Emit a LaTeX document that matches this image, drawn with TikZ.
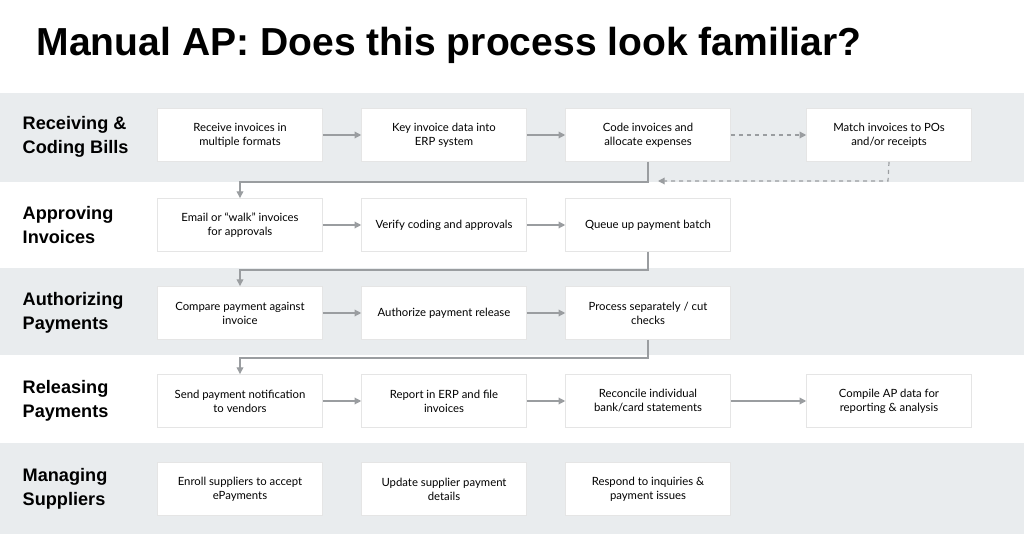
\documentclass[tikz,border=0pt]{standalone}
\usepackage{fontspec}
\setmainfont{Lato}
\newfontfamily\titlefont{Liberation Sans}
\usetikzlibrary{arrows.meta}
\definecolor{band}{HTML}{E9ECEE}
\definecolor{conn}{HTML}{9A9DA0}
\tikzset{
  px/.style={x=0.75pt,y=-0.75pt},
  boxx/.style={draw=black!10,fill=white,minimum width=123.75pt,minimum height=40pt,align=center,font=\fontsize{8.5}{10.5}\selectfont,inner sep=2pt},
  rowlbl/.style={anchor=west,align=left,font=\titlefont\bfseries\fontsize{13.6}{18}\selectfont},
  con/.style={draw=conn,line width=0.9pt,-{Triangle[length=5pt,width=5pt]}},
  dcon/.style={con,dashed}
}
\begin{document}
\begin{tikzpicture}[px]
\useasboundingbox (0,0) rectangle (1024,534);
\fill[white] (0,0) rectangle (1024,534);
\fill[band] (0,93) rectangle (1024,182);
\fill[band] (0,268) rectangle (1024,355);
\fill[band] (0,443) rectangle (1024,534);
\node[anchor=west,font=\titlefont\bfseries\fontsize{29.3}{30}\selectfont] (title) at (32,45) {Manual AP: Does this process look familiar?};
\node[rowlbl] (l1) at (18,137) {Receiving \&\\Coding Bills};
\node[rowlbl] (l2) at (18,225) {Approving\\Invoices};
\node[rowlbl] (l3) at (18,313) {Authorizing\\Payments};
\node[rowlbl] (l4) at (18,401) {Releasing\\Payments};
\node[rowlbl] (l5) at (18,489) {Managing\\Suppliers};
% row 1
\node[boxx] (a1) at (240,135) {Receive invoices in\\multiple formats};
\node[boxx] (a2) at (444,135) {Key invoice data into\\ERP system};
\node[boxx] (a3) at (648,135) {Code invoices and\\allocate expenses};
\node[boxx] (a4) at (889,135) {Match invoices to POs\\and/or receipts};
% row 2
\node[boxx] (b1) at (240,225) {Email or ``walk'' invoices\\for approvals};
\node[boxx] (b2) at (444,225) {Verify coding and approvals};
\node[boxx] (b3) at (648,225) {Queue up payment batch};
% row 3
\node[boxx] (c1) at (240,313) {Compare payment against\\invoice};
\node[boxx] (c2) at (444,313) {Authorize payment release};
\node[boxx] (c3) at (648,313) {Process separately / cut\\checks};
% row 4
\node[boxx] (d1) at (240,401) {Send payment notification\\to vendors};
\node[boxx] (d2) at (444,401) {Report in ERP and file\\invoices};
\node[boxx] (d3) at (648,401) {Reconcile individual\\bank/card statements};
\node[boxx] (d4) at (889,401) {Compile AP data for\\reporting \& analysis};
% row 5
\node[boxx] (e1) at (240,489) {Enroll suppliers to accept\\ePayments};
\node[boxx] (e2) at (444,489) {Update supplier payment\\details};
\node[boxx] (e3) at (648,489) {Respond to inquiries \&\\payment issues};
% connectors
\coordinate (k1) at (648,182); \coordinate (k2) at (888,181);
\coordinate (k3) at (648,270); \coordinate (k4) at (648,358);
\draw[con] (a1) -- (a2); \draw[con] (a2) -- (a3);
\draw[dcon] (a3) -- (a4);
\draw[dcon] (a4.south) -- (k2) -- (658,181);
\draw[con] (a3.south) -- (k1) -| (b1.north);
\draw[con] (b1) -- (b2); \draw[con] (b2) -- (b3);
\draw[con] (b3.south) -- (k3) -| (c1.north);
\draw[con] (c1) -- (c2); \draw[con] (c2) -- (c3);
\draw[con] (c3.south) -- (k4) -| (d1.north);
\draw[con] (d1) -- (d2); \draw[con] (d2) -- (d3); \draw[con] (d3) -- (d4);
\end{tikzpicture}
\end{document}
